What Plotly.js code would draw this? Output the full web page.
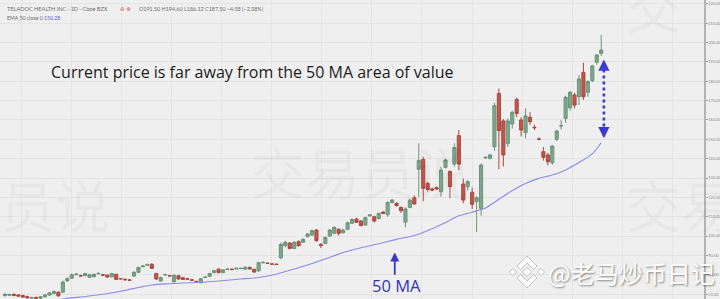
<!DOCTYPE html>
<html><head><meta charset="utf-8">
<script src="https://cdn.plot.ly/plotly-3.0.1.min.js"></script>
<style>html,body{margin:0;padding:0;background:#efefef;}#chart{width:720px;height:299px;}</style>
</head><body><div id="chart"></div>
<script>
// ---- Data ----
const openP = [69.2,69.4,69.9,69.6,69.3,68.7,67.9,68.3,67.9,68.6,69.5,70.3,71.0,71.0,76.8,78.2,80.1,79.6,79.5,78.7,
79.0,80.5,80.0,79.8,78.9,80.2,78.0,77.7,77.3,79.3,81.3,84.2,84.9,85.4,80.6,76.8,79.9,79.6,76.4,79.5,
78.4,77.9,77.4,76.6,75.9,78.6,79.2,81.1,82.9,81.1,82.7,82.9,83.0,83.2,82.9,83.8,82.8,82.0,86.2,86.0,
85.6,85.5,88.8,95.0,96.4,93.6,97.1,96.8,99.7,100.5,103.1,95.7,96.2,100.0,101.4,103.5,101.7,103.5,106.6,108.8,
107.8,105.7,110.4,110.0,109.1,112.4,111.0,117.3,116.9,114.8,107.2,114.8,119.8,134.5,139.6,127.2,124.3,125.0,122.9,135.5,
133.3,137.2,151.9,126.9,125.5,122.6,117.8,114.3,140.4,140.2,146.2,173.7,159.5,147.9,157.9,170.7,160.0,153.4,161.4,156.2,
150.2,143.6,141.9,137.9,150.0,156.9,160.8,166.3,172.9,172.0,184.6,174.3,180.3,189.8,194.4];
const highP = [70.4,70.3,70.3,70.0,69.7,69.1,68.6,68.7,69.0,70.0,71.2,71.9,71.4,77.0,78.6,80.6,80.9,80.1,81.0,80.4,
80.6,81.2,80.4,80.2,81.0,80.6,78.3,78.0,77.6,81.6,84.2,85.0,85.8,86.0,81.0,79.0,80.5,79.9,80.2,79.9,
78.8,78.2,77.8,76.9,78.3,79.2,81.0,82.6,83.3,82.9,83.3,83.2,83.7,83.7,84.3,84.2,83.1,86.7,86.9,86.3,
85.9,85.8,96.6,97.5,96.9,97.3,97.8,98.8,101.5,103.3,103.6,96.3,99.8,103.6,105.0,104.0,103.6,107.4,109.1,109.4,
108.3,110.0,111.4,110.5,112.2,112.8,118.0,119.1,117.4,115.3,114.9,119.3,121.0,148.0,141.0,128.0,125.0,125.6,135.8,140.0,
134.0,147.9,154.8,129.8,129.0,125.0,120.5,137.5,141.2,142.5,169.0,176.3,160.5,160.8,164.8,171.5,161.5,166.0,164.0,157.5,
151.0,146.0,143.0,147.0,155.0,160.0,172.5,175.0,174.0,183.2,189.6,180.5,188.5,194.0,204.0];
const lowP = [68.8,69.0,68.9,68.6,68.1,67.7,67.4,67.4,67.6,68.3,69.2,70.0,68.7,70.6,76.4,77.8,79.6,79.0,79.2,78.3,
78.7,80.2,79.4,78.5,78.6,77.3,77.5,77.1,76.8,78.9,81.0,83.8,84.5,83.0,77.4,76.4,79.5,79.0,76.0,77.5,
77.3,77.4,76.9,76.1,75.5,78.3,78.9,80.8,80.8,80.9,82.4,82.3,82.8,82.9,82.6,82.7,81.0,81.7,85.9,85.6,
85.2,85.0,88.0,94.2,93.2,93.2,94.6,96.5,99.3,100.1,97.1,93.8,95.8,99.6,101.0,100.2,101.3,103.1,106.2,106.7,
105.0,105.3,110.0,107.0,108.7,111.3,110.0,116.9,115.3,112.0,104.5,114.4,116.2,120.0,118.0,123.0,123.2,123.9,120.3,135.0,
119.5,135.8,134.1,116.9,123.5,114.0,102.0,110.5,139.8,139.5,144.0,134.5,136.0,146.0,155.5,161.5,151.5,150.5,157.5,154.8,
149.5,139.0,136.5,136.8,149.0,155.0,158.5,164.8,166.0,167.7,170.3,172.0,179.5,188.5,193.0];
const closeP = [69.9,69.8,69.3,69.0,68.5,68.1,68.2,67.8,68.6,69.6,70.6,71.3,69.1,76.2,78.0,80.0,80.3,79.4,80.6,80.0,
80.2,80.7,79.8,78.8,80.6,77.6,77.9,77.4,77.2,81.3,83.8,84.5,85.3,83.3,77.8,78.5,80.1,79.4,79.7,77.8,
77.6,77.7,77.2,76.4,77.9,78.8,80.6,82.1,81.1,82.5,82.9,82.7,83.3,83.3,83.9,83.0,81.4,86.2,86.4,85.9,
85.5,85.3,95.7,96.8,93.6,96.8,95.0,98.3,101.1,102.8,97.6,95.2,99.3,103.1,104.5,101.4,103.1,106.9,108.6,107.1,
105.4,109.5,110.9,107.8,111.7,111.7,117.3,118.6,115.7,113.1,114.0,118.6,116.6,139.0,124.7,124.1,123.8,124.3,134.1,139.3,
125.5,145.8,137.2,118.6,128.1,116.4,119.8,136.7,140.7,141.9,167.4,154.5,141.9,159.5,163.9,163.4,154.8,162.1,159.1,156.0,
150.0,140.7,138.4,146.5,154.3,157.0,171.7,174.3,167.7,181.2,172.0,179.8,187.9,193.6,196.1];
const barIndex = openP.map((_, i) => i);

const maIndex = [10,14,18,22,26,30,33,36,40,44,48,53,57,61,65,68,72,76,80,84,88,92,96,99,102,105,108,111,114,117,120,123,126,129,132,134];
const maValue = [66.3,67.8,68.8,69.9,71.5,73.4,74.7,75.3,75.7,76.1,76.8,77.8,78.6,80.3,83.0,85.0,88.2,91.5,94.0,96.0,98.3,100.3,103.8,107.0,110.5,112.3,114.5,119.0,123.5,127.2,129.8,131.5,134.2,138.0,142.5,148.2];

const headerTitle = "TELADOC HEALTH INC · 1D · Cboe BZX";
const headerOHLC = "O191.50 H194.60 L186.12 C187.50 −4.58 (−2.38%)";
const headerMA = "EMA 50 close 0";
const headerMAValue = "150.28";
const mainNote = "Current price is far away from the 50 MA area of value";
const maLabel = "50 MA";
const watermark = "交易员说";
const watermarkRight = "交易";
const watermarkTop = "交";
const signature = "@老马炒币日记";

// ---- helpers for paper placement ----
const W = 704, H = 299;
const PX = x => x / W;
const PY = y => 1 - y / H;

const traces = [
  {
    type: 'candlestick', x: barIndex, open: openP, high: highP, low: lowP, close: closeP,
    increasing: {line: {color: '#6a9479', width: 1}, fillcolor: '#7fa68d'},
    decreasing: {line: {color: '#a9483f', width: 1}, fillcolor: '#c3564a'},
    whiskerwidth: 0, hoverinfo: 'skip', showlegend: false
  },
  {
    type: 'scatter', mode: 'lines', x: maIndex, y: maValue,
    line: {color: '#8b8bef', width: 1.1, shape: 'spline', smoothing: 0.6},
    hoverinfo: 'skip', showlegend: false
  }
];

const wmFont = {family: 'Noto Sans CJK SC', size: 55, color: 'rgba(0,0,0,0.03)'};
const annotations = [
  // watermarks
  {xref:'paper', yref:'paper', x:PX(248), y:PY(170), xanchor:'left', yanchor:'middle', text:watermark, showarrow:false, font:wmFont},
  {xref:'paper', yref:'paper', x:PX(-112), y:PY(203), xanchor:'left', yanchor:'middle', text:watermark, showarrow:false, font:wmFont},
  {xref:'paper', yref:'paper', x:PX(624), y:PY(203), xanchor:'left', yanchor:'middle', text:watermarkRight, showarrow:false, font:wmFont},
  {xref:'paper', yref:'paper', x:PX(624), y:PY(4), xanchor:'left', yanchor:'middle', text:watermarkTop, showarrow:false, font:wmFont},
  // header
  {xref:'paper', yref:'paper', x:PX(5), y:PY(9), xanchor:'left', yanchor:'middle', text:headerTitle, showarrow:false, font:{family:'Lato', size:5.6, color:'#6e6e6e'}},
  {xref:'paper', yref:'paper', x:PX(118), y:PY(9), xanchor:'left', yanchor:'middle', text:'⊖ ⊗', showarrow:false, font:{family:'DejaVu Sans', size:5.5, color:'#d05050'}},
  {xref:'paper', yref:'paper', x:PX(137), y:PY(9), xanchor:'left', yanchor:'middle', text:headerOHLC, showarrow:false, font:{family:'Lato', size:5.4, color:'#6e6e6e'}},
  {xref:'paper', yref:'paper', x:PX(5), y:PY(18.5), xanchor:'left', yanchor:'middle', text:headerMA, showarrow:false, font:{family:'Lato', size:5.2, color:'#6e6e6e'}},
  {xref:'paper', yref:'paper', x:PX(42), y:PY(18.5), xanchor:'left', yanchor:'middle', text:headerMAValue, showarrow:false, font:{family:'Lato', size:5.2, color:'#5a5ae0'}},
  // main note
  {xref:'x', yref:'y', x:10.0, y:184.9, xanchor:'left', yanchor:'middle', text:mainNote, showarrow:false, font:{family:'Open Sans', size:16, color:'#1c1c1c'}},
  // 50 MA label + arrow
  {xref:'x', yref:'y', x:87.9, y:74.7, xanchor:'center', yanchor:'middle', text:maLabel, showarrow:false, font:{family:'Open Sans', size:16.5, color:'#3434b4'}},
  {xref:'x', yref:'y', x:87.6, y:91.5, axref:'x', ayref:'y', ax:87.6, ay:79.2, text:'', showarrow:true, arrowhead:2, arrowsize:1, arrowwidth:1.8, arrowcolor:'#3838c0'},
  // dotted double arrow heads
  {xref:'x', yref:'y', x:134.6, y:191.3, ax:0, ay:7, text:'', showarrow:true, arrowhead:2, arrowsize:0.9, arrowwidth:2.5, arrowcolor:'#3a3acf'},
  {xref:'x', yref:'y', x:134.6, y:150.5, ax:0, ay:-7, text:'', showarrow:true, arrowhead:2, arrowsize:0.9, arrowwidth:2.5, arrowcolor:'#3a3acf'},
  // signature
  {xref:'paper', yref:'paper', x:PX(546), y:PY(272), xanchor:'left', yanchor:'middle', text:signature, showarrow:false,
   font:{family:'Noto Sans CJK SC', size:24, color:'#ffffff', shadow:'1px 1px 2px rgba(0,0,0,0.45)'}}
];

// Binance-like logo (paper coords)
function poly(pts){ return 'M' + pts.map(p => PX(p[0]) + ',' + PY(p[1])).join(' L') + ' Z'; }
const cx = 527, cy = 272;
const logoStyle = {fillcolor:'#ffffff', line:{color:'rgba(0,0,0,0.28)', width:0.8}, layer:'above'};
const logoShapes = [
  poly([[cx,cy-16],[cx-10,cy-6],[cx-6.5,cy-2.5],[cx,cy-9],[cx+6.5,cy-2.5],[cx+10,cy-6]]),
  poly([[cx,cy+16],[cx-10,cy+6],[cx-6.5,cy+2.5],[cx,cy+9],[cx+6.5,cy+2.5],[cx+10,cy+6]]),
  poly([[cx,cy-4.5],[cx+4.5,cy],[cx,cy+4.5],[cx-4.5,cy]]),
  poly([[cx-14,cy-3.5],[cx-10.5,cy],[cx-14,cy+3.5],[cx-17.5,cy]]),
  poly([[cx+14,cy-3.5],[cx+17.5,cy],[cx+14,cy+3.5],[cx+10.5,cy]])
].map(p => Object.assign({type:'path', xref:'paper', yref:'paper', path:p}, logoStyle));

const shapes = [
  {type:'line', xref:'x', yref:'y', x0:134.6, x1:134.6, y0:153.5, y1:188.3, line:{color:'#3a3acf', width:2.6, dash:'dot'}},
  ...logoShapes
];

const layout = {
  width: 720, height: 299,
  margin: {l:0, r:16, t:0, b:0},
  paper_bgcolor: '#efefef', plot_bgcolor: '#efefef',
  showlegend: false,
  boxgap: 0.3, boxgroupgap: 0,
  xaxis: {range:[-1.12, 157.1], showticklabels:false, showgrid:true, gridcolor:'#e5e5e5', gridwidth:1,
          tick0:3.8, dtick:11.24, zeroline:false, showline:false, ticks:'', rangeslider:{visible:false}, fixedrange:true},
  yaxis: {side:'right', range:[67.47, 221.99], tick0:0, dtick:10, tickformat:'.2f', showgrid:true, gridcolor:'#e4e4e4',
          showline:true, linecolor:'#b3b3b3', linewidth:1.5, ticks:'outside', ticklen:2, tickcolor:'#a0a0a0',
          tickfont:{family:'Lato', size:4, color:'#8a8a8a'}, zeroline:false, fixedrange:true},
  annotations: annotations,
  shapes: shapes
};

Plotly.newPlot('chart', traces, layout, {displayModeBar:false, staticPlot:true});
</script>
</body></html>
